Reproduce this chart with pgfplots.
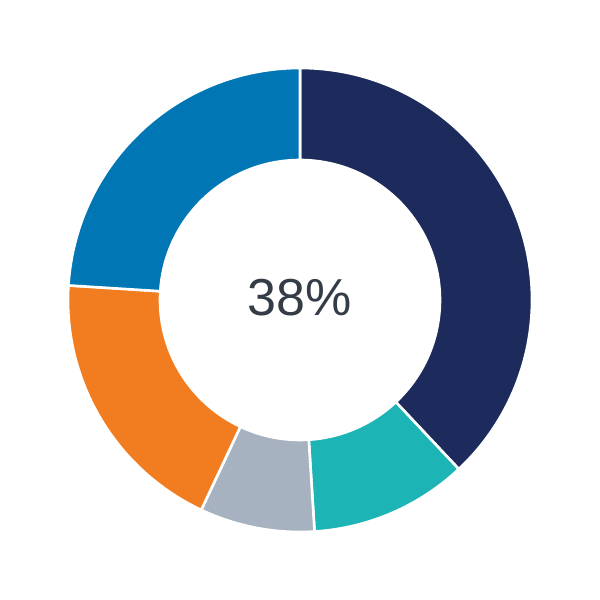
\documentclass[border=0pt]{standalone}
\usepackage{pgfplots}
\pgfplotsset{compat=1.18}
\usepackage{pgfplotstable}
\usepackage{fontspec}
\setmainfont{Liberation Sans}
\definecolor{cNavy}{HTML}{1C2B5B}
\definecolor{cTeal}{HTML}{1DB4B6}
\definecolor{cGray}{HTML}{A7B2C1}
\definecolor{cOrange}{HTML}{F27D20}
\definecolor{cBlue}{HTML}{0076B5}
\definecolor{cText}{HTML}{343D47}
\pgfplotstableread{
value
38
11
8
19
24
}\donut
\pgfplotstablegetelem{0}{value}\of\donut \edef\vA{\pgfplotsretval}
\pgfplotstablegetelem{1}{value}\of\donut \edef\vB{\pgfplotsretval}
\pgfplotstablegetelem{2}{value}\of\donut \edef\vC{\pgfplotsretval}
\pgfplotstablegetelem{3}{value}\of\donut \edef\vD{\pgfplotsretval}
\pgfplotstablegetelem{4}{value}\of\donut \edef\vE{\pgfplotsretval}
\pgfmathsetmacro\aA{90}
\pgfmathsetmacro\aB{\aA-3.6*\vA}
\pgfmathsetmacro\aC{\aB-3.6*\vB}
\pgfmathsetmacro\aD{\aC-3.6*\vC}
\pgfmathsetmacro\aE{\aD-3.6*\vD}
\pgfmathsetmacro\aF{\aE-3.6*\vE}
\newcommand\sector[3]{%
  \fill[#1, draw=white, line width=2.6pt, line join=miter, shift={(axis cs:0,0)}]
    (#2:140pt) -- (#2:232pt) arc[start angle=#2, end angle=#3, radius=232pt]
    -- (#3:140pt) arc[start angle=#3, end angle=#2, radius=140pt] -- cycle;}
\begin{document}
\begin{tikzpicture}
\begin{axis}[x=1pt, y=1pt, disabledatascaling, xmin=-300, xmax=300, ymin=-300, ymax=300,
  hide axis, clip=false]
\path (axis cs:-300,-300) rectangle (axis cs:300,300);
\sector{cNavy}{\aA}{\aB}
\sector{cTeal}{\aB}{\aC}
\sector{cGray}{\aC}{\aD}
\sector{cOrange}{\aD}{\aE}
\sector{cBlue}{\aE}{\aF}
\node[text=cText, font=\fontsize{52}{60}\selectfont] at (axis cs:0,2) {38\%};
\end{axis}
\end{tikzpicture}
\end{document}
